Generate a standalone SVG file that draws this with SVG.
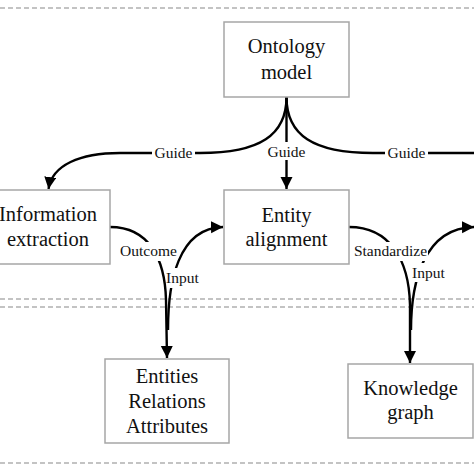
<svg xmlns="http://www.w3.org/2000/svg" width="474" height="474" viewBox="0 0 474 474">
<style>
.box{fill:#fff;stroke:#a6a6a6;stroke-width:1.5}
.t{font-family:"Liberation Serif","Times New Roman",serif;font-size:20.5px;fill:#111;text-anchor:middle}
.lbl{font-family:"Liberation Serif","Times New Roman",serif;font-size:15.5px;fill:#111}
.c{fill:none;stroke:#000;stroke-width:2.4}
.dash{stroke:#b0b0b0;stroke-width:1.5;stroke-dasharray:5 3;fill:none}
.bg{fill:#fff}
</style>
<defs>
<marker id="ah" markerUnits="userSpaceOnUse" markerWidth="13" markerHeight="13" refX="12" refY="6" orient="auto">
<path d="M0,0 L12,6 L0,12 z" fill="#000"/>
</marker>
</defs>
<rect width="474" height="474" fill="#fff"/>
<g id="dividers">
<line class="dash" x1="0" y1="8" x2="474" y2="8"/>
<line class="dash" x1="0" y1="299" x2="474" y2="299"/>
<line class="dash" x1="0" y1="307" x2="474" y2="307"/>
<line class="dash" x1="0" y1="463" x2="474" y2="463"/>
</g>
<g id="connectors">
<path class="c" d="M286.5 97 C286.5 135 260 153 200 153 L120 153 C80 153 52 165 48.5 189" marker-end="url(#ah)"/>
<path class="c" d="M286.5 97 C286.5 135 313 153 373 153 L480 153"/>
<path class="c" d="M286.5 97 L286.5 189" marker-end="url(#ah)"/>
<path class="c" d="M110 227 C150 227 165 260 166 300 L167 358" marker-end="url(#ah)"/>
<path class="c" d="M168 330 C168 282 178 228 223 227" marker-end="url(#ah)"/>
<path class="c" d="M349 227 C390 227 409 260 410 305 L410 363" marker-end="url(#ah)"/>
<path class="c" d="M411 330 C411 282 424 228 474 227" marker-end="url(#ah)"/>
<rect class="bg" x="152" y="143" width="43" height="18"/>
<text class="lbl" x="173.5" y="158" text-anchor="middle">Guide</text>
<rect class="bg" x="266" y="142" width="42" height="18"/>
<text class="lbl" x="286.5" y="157" text-anchor="middle">Guide</text>
<rect class="bg" x="385" y="143" width="43" height="18"/>
<text class="lbl" x="406.5" y="158" text-anchor="middle">Guide</text>
<rect class="bg" x="120" y="242" width="57" height="19"/>
<text class="lbl" x="148.5" y="256" text-anchor="middle">Outcome</text>
<rect class="bg" x="168" y="268" width="31" height="20"/>
<text class="lbl" x="166" y="283">Input</text>
<rect class="bg" x="353" y="242" width="75" height="19"/>
<text class="lbl" x="390.5" y="256" text-anchor="middle">Standardize</text>
<rect class="bg" x="414" y="263" width="30" height="19"/>
<text class="lbl" x="412" y="278">Input</text>
</g>
<g id="ontology">
<rect class="box" x="224" y="22" width="125" height="75"/>
<text class="t" x="286.5" y="53">Ontology</text>
<text class="t" x="286.5" y="79">model</text>
</g>
<g id="information-extraction">
<rect class="box" x="-15" y="190" width="125" height="74"/>
<text class="t" x="48" y="221">Information</text>
<text class="t" x="48" y="246">extraction</text>
</g>
<g id="entity-alignment">
<rect class="box" x="224" y="190" width="125" height="74"/>
<text class="t" x="286.5" y="222">Entity</text>
<text class="t" x="286.5" y="246">alignment</text>
</g>
<g id="entities">
<rect class="box" x="105" y="359" width="124" height="84"/>
<text class="t" x="167" y="383">Entities</text>
<text class="t" x="167" y="408">Relations</text>
<text class="t" x="167" y="433">Attributes</text>
</g>
<g id="knowledge-graph">
<rect class="box" x="348" y="364" width="125" height="74"/>
<text class="t" x="410.5" y="395">Knowledge</text>
<text class="t" x="410.5" y="419">graph</text>
</g>
</svg>
